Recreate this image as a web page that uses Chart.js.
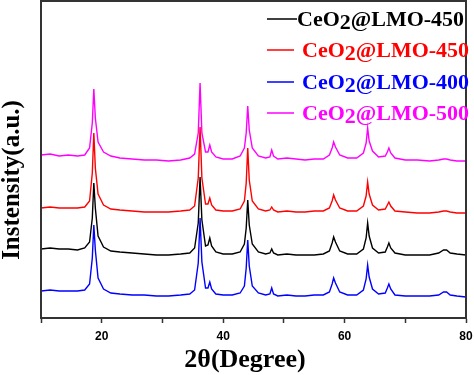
<!DOCTYPE html>
<html>
<head>
<meta charset="utf-8">
<script src="https://cdn.jsdelivr.net/npm/chart.js@4"></script>
<style>
    html, body { margin: 0; padding: 0; background: #fff; }
    #wrap { width: 474px; height: 375px; }
</style>
</head>
<body>
<div id="wrap"><canvas id="xrdChart"></canvas></div>
<script>
const twoTheta = [10, 11.5, 13, 14.5, 16, 17.2, 18.0, 18.45, 18.7, 18.95,
    19.4, 20.3, 21.5, 23, 25, 27, 29, 31, 33, 34.5,
    35.3, 35.9, 36.2, 36.5, 37.1, 37.5, 37.8, 38.1, 38.8, 40,
    41.5, 42.8, 43.5, 43.8, 44.05, 44.3, 44.8, 45.8, 47, 47.7,
    48.0, 48.3, 49, 50.5, 52, 53.5, 55, 56.5, 57.5, 57.95,
    58.2, 58.5, 59.2, 60.5, 62, 63.1, 63.55, 63.8, 64.05, 64.6,
    65.6, 66.7, 67.05, 67.3, 67.6, 68.3, 70, 72, 74, 75.5,
    76.3, 76.8, 77.4, 78.5, 80];

const black450 = [69, 70, 69, 69, 68, 70, 76, 100, 135, 110,
    82, 71, 67, 66, 65, 64, 63, 63, 64, 65,
    70, 95, 141, 98, 72, 73, 80, 72, 66, 64,
    64, 66, 74, 90, 118, 93, 74, 66, 64, 65,
    69, 65, 63, 64, 63, 63, 63, 64, 67, 75,
    81, 76, 67, 64, 64, 69, 80, 95, 82, 70,
    65, 66, 71, 75, 70, 65, 63, 63, 63, 65,
    68, 68, 65, 64, 63];

const red450 = [110, 111, 110, 110, 110, 111, 117, 145, 185, 150,
    124, 113, 109, 108, 107, 106, 106, 106, 107, 108,
    112, 140, 191, 140, 114, 114, 120, 113, 108, 107,
    107, 109, 117, 135, 170, 138, 117, 109, 107, 108,
    111, 108, 106, 107, 106, 106, 107, 107, 110, 117,
    123, 118, 110, 107, 107, 112, 122, 136, 124, 113,
    108, 109, 113, 116, 112, 107, 106, 105, 105, 106,
    107, 107, 106, 105, 105];

const blue400 = [27, 28, 27, 27, 27, 28, 34, 60, 93, 68,
    40, 29, 25, 24, 23, 23, 22, 22, 23, 24,
    28, 55, 100, 56, 30, 30, 36, 29, 24, 23,
    23, 25, 32, 50, 78, 52, 32, 25, 23, 24,
    30, 24, 22, 23, 22, 22, 23, 23, 26, 34,
    40, 35, 26, 23, 23, 28, 39, 53, 41, 29,
    24, 25, 30, 34, 29, 23, 22, 22, 22, 23,
    26, 26, 23, 22, 21];

const magenta500 = [163, 164, 162, 163, 162, 163, 170, 195, 229, 200,
    176, 166, 162, 160, 159, 158, 158, 157, 158, 160,
    164, 185, 235, 185, 166, 166, 173, 166, 161, 159,
    159, 162, 170, 185, 212, 188, 170, 162, 160, 161,
    168, 162, 159, 160, 159, 158, 159, 159, 163, 170,
    176, 171, 163, 160, 160, 165, 175, 190, 177, 167,
    161, 162, 166, 170, 165, 160, 158, 158, 157, 158,
    159, 159, 158, 157, 157];

const seriesLabels = ["CeO2@LMO-450", "CeO2@LMO-450", "CeO2@LMO-400", "CeO2@LMO-500"];
const seriesColors = ["#000000", "#ff0000", "#0000ff", "#ff00ff"];
const seriesValues = [black450, red450, blue400, magenta500];

function toPoints(values) {
    return values.map((v, i) => ({ x: twoTheta[i], y: v }));
}

const serif = "'Liberation Serif', 'Times New Roman', serif";

// frame, axis titles and legend with subscript 2
const decorPlugin = {
    id: "decor",
    afterDraw(chart) {
        const ctx = chart.ctx;
        const a = chart.chartArea;
        ctx.save();

        ctx.strokeStyle = "#333";
        ctx.lineWidth = 2;
        ctx.strokeRect(a.left, a.top, a.right - a.left, a.bottom - a.top);

        ctx.fillStyle = "#000";
        ctx.font = "bold 26px " + serif;
        ctx.textAlign = "center";
        ctx.textBaseline = "middle";
        ctx.fillText("2θ(Degree)", 245, 360);

        ctx.save();
        ctx.translate(13, 180);
        ctx.rotate(-Math.PI / 2);
        ctx.font = "bold 25px " + serif;
        ctx.fillText("Instensity(a.u.)", 0, 0);
        ctx.restore();

        ctx.font = "bold 22px " + serif;
        ctx.textAlign = "left";
        ctx.textBaseline = "alphabetic";
        const rows = [19, 50, 82, 113];
        seriesLabels.forEach((label, i) => {
            const y = rows[i];
            const lineEnd = i === 0 ? 297 : 294;
            let x = i === 0 ? 297 : 302;
            ctx.strokeStyle = seriesColors[i];
            ctx.lineWidth = 1.5;
            ctx.beginPath();
            ctx.moveTo(267, y);
            ctx.lineTo(lineEnd, y);
            ctx.stroke();

            ctx.fillStyle = seriesColors[i];
            const parts = label.split("2@");
            ctx.fillText(parts[0], x, y + 7);
            x += ctx.measureText(parts[0]).width;
            ctx.fillText("2", x, y + 10);
            x += ctx.measureText("2").width;
            ctx.fillText("@" + parts[1], x, y + 7);
        });

        ctx.restore();
    }
};

new Chart(document.getElementById("xrdChart"), {
    type: "line",
    data: {
        datasets: seriesValues.map((vals, i) => ({
            label: seriesLabels[i],
            data: toPoints(vals),
            borderColor: seriesColors[i],
            borderWidth: 1.4,
            pointRadius: 0,
            tension: 0,
            fill: false
        }))
    },
    options: {
        responsive: true,
        maintainAspectRatio: false,
        animation: false,
        layout: {
            padding: { left: 41, right: 8, top: 1, bottom: 30 }
        },
        plugins: {
            legend: { display: false },
            tooltip: { enabled: false }
        },
        scales: {
            x: {
                type: "linear",
                min: 10,
                max: 80,
                afterFit(scale) {
                    scale.height = 27;
                    scale.paddingLeft = 0;
                    scale.paddingRight = 0;
                },
                border: { display: true, color: "#333", width: 2 },
                grid: {
                    drawOnChartArea: false,
                    drawTicks: true,
                    tickLength: 5,
                    tickWidth: 1.5,
                    tickColor: "#333"
                },
                ticks: {
                    stepSize: 10,
                    autoSkip: false,
                    maxRotation: 0,
                    padding: 6,
                    color: "#000",
                    font: { family: "'Liberation Sans', Arial, sans-serif", size: 12, weight: "bold" },
                    callback: value => (value % 20 === 0 ? value : "")
                }
            },
            y: {
                display: false,
                min: 0,
                max: 317
            }
        }
    },
    plugins: [decorPlugin]
});
</script>
</body>
</html>
